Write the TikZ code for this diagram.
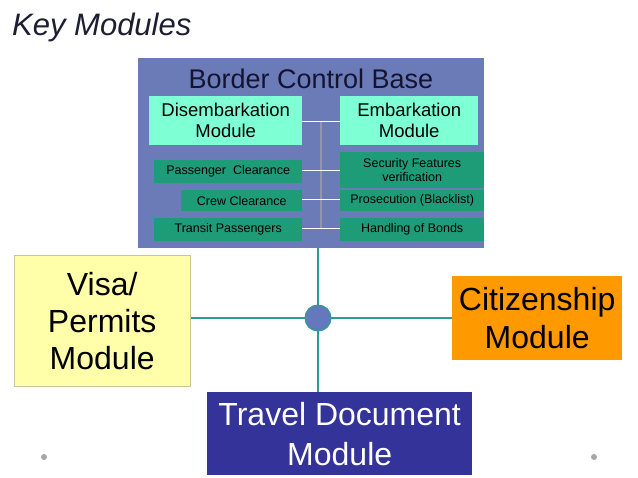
\documentclass[tikz,border=0pt]{standalone}
\usepackage{fontspec}
\setmainfont{Liberation Sans}
\begin{document}
\begin{tikzpicture}[x=1pt,y=-1pt,
 lite/.style={fill={rgb,255:red,127;green,255;blue,212}, draw=none},
 grn/.style={fill={rgb,255:red,30;green,156;blue,120}, draw=none},
 lnk/.style={draw={rgb,255:red,46;green,156;blue,140}, line width=1.5pt},
 wl/.style={draw=white, line width=1pt}]
\useasboundingbox (0,0) rectangle (638,478);
\fill[white] (0,0) rectangle (638,478);
\node[anchor=west, font=\itshape\fontsize{31}{34}\selectfont, text={rgb,255:red,30;green,30;blue,50}, inner sep=0pt] (title) at (12,27) {Key Modules};
\coordinate (hub) at (318,318);
\draw[lnk] (318,248) -- (318,392);
\draw[lnk] (190,318) -- (452,318);
\node[draw={rgb,255:red,46;green,156;blue,140}, line width=1pt, circle, minimum size=26pt, inner sep=0pt, fill={rgb,255:red,100;green,120;blue,190}] (c) at (hub) {};
\node[fill={rgb,255:red,107;green,123;blue,184}, minimum width=346pt, minimum height=190pt, anchor=north west, inner sep=0pt] (base) at (138,58) {};
\node[font=\fontsize{27}{30}\selectfont, text={rgb,255:red,20;green,20;blue,50}, inner sep=0pt] (bt) at (311,79) {Border Control Base};
\draw[draw={rgb,255:red,150;green,150;blue,160}, line width=1.5pt] (321,122) -- (321,229);
\foreach \y in {122,171,200,229} \draw[wl] (302,\y) -- (340,\y);
\node[lite, minimum width=153pt, minimum height=49pt, anchor=north west, align=center, font=\fontsize{18.5}{21}\selectfont] (dis) at (149,96) {Disembarkation\\Module};
\node[lite, minimum width=138pt, minimum height=49pt, anchor=north west, align=center, font=\fontsize{18.5}{21}\selectfont] (emb) at (340,96) {Embarkation\\Module};
\node[grn, minimum width=148pt, minimum height=23pt, anchor=north west, font=\fontsize{12.5}{14}\selectfont] (pc) at (154,160) {Passenger\ \ Clearance};
\node[grn, minimum width=121pt, minimum height=21pt, anchor=north west, font=\fontsize{12.5}{14}\selectfont] (cc) at (181,190) {Crew Clearance};
\node[grn, minimum width=148pt, minimum height=23pt, anchor=north west, font=\fontsize{12.5}{14}\selectfont] (tp) at (154,218) {Transit Passengers};
\node[grn, minimum width=144pt, minimum height=36pt, anchor=north west, align=center, font=\fontsize{12.5}{14.5}\selectfont, inner sep=0pt] (sf) at (340,152) {Security Features\\verification};
\node[grn, minimum width=144pt, minimum height=21pt, anchor=north west, font=\fontsize{12.5}{14}\selectfont, inner sep=0pt] (pb) at (340,190) {Prosecution (Blacklist)};
\node[grn, minimum width=144pt, minimum height=23pt, anchor=north west, font=\fontsize{12.5}{14}\selectfont] (hb) at (340,218) {Handling of Bonds};
\node[draw={rgb,255:red,200;green,200;blue,150}, fill={rgb,255:red,255;green,255;blue,170}, minimum width=176pt, minimum height=131pt, anchor=north west, align=center, font=\fontsize{32}{37}\selectfont] (visa) at (14,255) {Visa/\\Permits\\Module};
\node[fill={rgb,255:red,255;green,153;blue,0}, minimum width=170pt, minimum height=84pt, anchor=north west, align=center, font=\fontsize{32}{38}\selectfont] (cit) at (452,276) {Citizenship\\Module};
\node[fill={rgb,255:red,51;green,51;blue,153}, text=white, minimum width=265pt, minimum height=83pt, anchor=north west, align=center, font=\fontsize{32}{40}\selectfont] (tdm) at (207,392) {Travel Document\\Module};
\fill[gray!70] (44,457) circle (3pt) (594,457) circle (3pt);
\end{tikzpicture}
\end{document}
